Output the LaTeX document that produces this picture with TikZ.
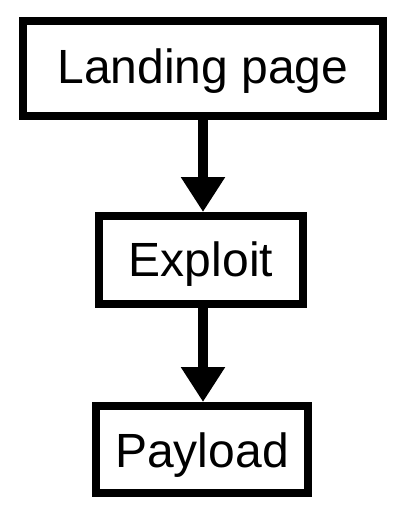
\documentclass[tikz,border=0pt]{standalone}
\usepackage{fontspec}
\setmainfont{Liberation Sans}
\usetikzlibrary{arrows.meta}
\begin{document}
\begin{tikzpicture}[x=1pt,y=-1pt,
  stagebox/.style={draw=black, line width=7.7pt, inner sep=0pt,
    font=\fontsize{48}{56}\selectfont, text height=34.5pt, text depth=0pt},
  flowarrow/.style={draw=black, line width=10pt,
    -{Triangle[width=42pt,length=35pt]}}]
\useasboundingbox (0,0) rectangle (409,515);
\node[stagebox, minimum width=360.3pt, minimum height=95.3pt, text depth=5pt] (lp) at (203,68.5) {Landing page};
\node[stagebox, minimum width=204.3pt, minimum height=88.3pt, text depth=2pt] (ex) at (201,260) {Exploit};
\node[stagebox, minimum width=212.3pt, minimum height=87.3pt, text height=36.5pt] (pl) at (202,449.5) {Payload};
\draw[flowarrow] (lp.south -| 203,0) -- (203,0 |- ex.north);
\draw[flowarrow] (ex.south -| 203,0) -- (203,0 |- pl.north);
\end{tikzpicture}
\end{document}
